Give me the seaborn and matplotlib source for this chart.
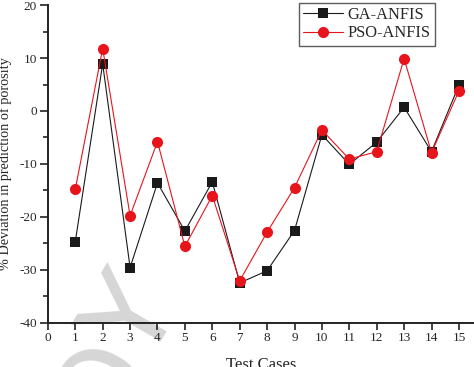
import matplotlib
matplotlib.use('Agg')
import matplotlib.pyplot as plt
from matplotlib.ticker import MultipleLocator
import pandas as pd
import seaborn as sns

sns.set_style('ticks')
plt.rcParams['font.family'] = ['Liberation Serif', 'DejaVu Serif']
plt.rcParams['axes.unicode_minus'] = False

# values
test_cases = list(range(1, 16))
ga_anfis = [-24.7, 8.9, -29.6, -13.6, -22.7, -13.4, -32.5, -30.2, -22.6,
            -4.5, -10.1, -5.9, 0.7, -7.7, 4.9]
pso_anfis = [-14.8, 11.8, -19.8, -5.8, -25.6, -16.0, -32.1, -22.9, -14.5,
             -3.6, -9.1, -7.7, 9.9, -7.9, 3.8]

df = pd.DataFrame({
    'case': test_cases * 2,
    'dev': ga_anfis + pso_anfis,
    'model': ['GA-ANFIS'] * 15 + ['PSO-ANFIS'] * 15,
})

fig = plt.figure(figsize=(4.74, 3.67), dpi=100)
ax = fig.add_axes([0.101, 0.121, 0.899, 0.865])

# faint watermark letters behind everything
for letter, x, y in [('Y', 0.287, 0.128), ('O', 0.22, -0.063)]:
    fig.text(x, y, letter, fontsize=85, color='#d6d6d6', rotation=60,
             ha='center', va='center', family='DejaVu Sans', zorder=-1)
ax.set_facecolor('none')

sns.lineplot(data=df, x='case', y='dev', hue='model', style='model',
             palette={'GA-ANFIS': '#1a1a1a', 'PSO-ANFIS': '#e8141c'},
             markers={'GA-ANFIS': 's', 'PSO-ANFIS': 'o'}, dashes=False,
             linewidth=0.8, markersize=7, markeredgewidth=0, ax=ax)
for line in ax.lines:
    if line.get_marker() == 'o':
        line.set_markersize(8)

ax.set_xlim(0, 15.55)
ax.set_ylim(-40, 20)
ax.xaxis.set_major_locator(MultipleLocator(1))
ax.yaxis.set_major_locator(MultipleLocator(10))
ax.yaxis.set_minor_locator(MultipleLocator(5))
ax.tick_params(axis='both', which='major', length=6, width=1.2, labelsize=9.5,
               color='#222222', pad=2)
ax.tick_params(axis='y', which='minor', length=3.5, width=1.2, color='#222222')
ax.tick_params(axis='x', which='major', length=5)
sns.despine(ax=ax)
for side in ['left', 'bottom']:
    ax.spines[side].set_linewidth(1.4)
    ax.spines[side].set_color('#222222')

ax.set_xlabel('Test Cases', fontsize=12, labelpad=9)
ax.set_ylabel('% Deviation in prediction of porosity', fontsize=10.3, labelpad=5)

leg = ax.legend(loc='upper right', bbox_to_anchor=(0.908, 1.007), fontsize=11.8,
                frameon=True, fancybox=False, edgecolor='#333333',
                handlelength=2.4, borderpad=0.25, labelspacing=0.15,
                handletextpad=0.3, borderaxespad=0)
leg.get_frame().set_linewidth(1.0)

fig.savefig('out.png', dpi=100)
